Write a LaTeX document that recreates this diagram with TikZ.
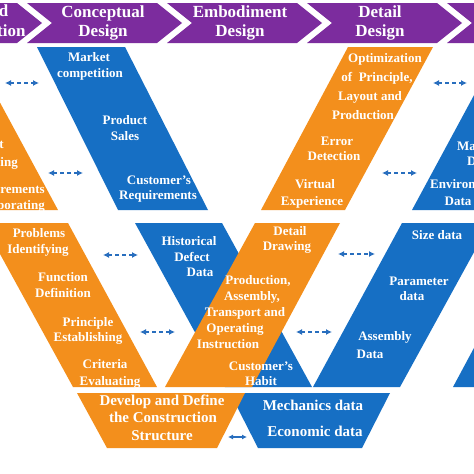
\documentclass[tikz,border=0pt]{standalone}
\usepackage{fontspec}
\setmainfont{Liberation Serif}
\usetikzlibrary{arrows.meta}
\definecolor{vblue}{RGB}{22,111,196}
\definecolor{vorange}{RGB}{243,143,28}
\definecolor{vpurple}{RGB}{124,44,158}
\definecolor{varrow}{RGB}{40,110,190}
\begin{document}
\begin{tikzpicture}[x=1pt,y=-1pt,
  lbl/.style={text=white,font=\bfseries\fontsize{13}{15}\selectfont,inner sep=0pt,text height=9pt,text depth=3pt},
  ban/.style={lbl,font=\bfseries\fontsize{17}{20}\selectfont,text height=11.5pt,text depth=4pt},
  big/.style={lbl,font=\bfseries\fontsize{15}{18}\selectfont,text height=10pt,text depth=3.5pt},
  darr/.style={draw=varrow,line width=1.6pt,dash pattern=on 4pt off 3pt,{Latex[length=6pt,width=6pt]}-{Latex[length=6pt,width=6pt]}},
  sarr/.style={draw=varrow,line width=1.2pt,{Latex[length=5pt,width=5pt]}-{Latex[length=5pt,width=5pt]}}]
\useasboundingbox (0,0) rectangle (474,474);
\clip (0,0) rectangle (474,474);
\fill[white] (0,0) rectangle (474,474);
% banner chevrons
\foreach \xo in {-113,27,167,307,447}{
  \fill[vpurple] (\xo,3) -- (\xo+130,3) -- (\xo+155,23) -- (\xo+130,43) -- (\xo,43) -- (\xo+25,23) -- cycle;
}
\node[ban] (b1a) at (-40,13) {Planning and};
\node[ban] (b1b) at (-40,33) {Task Clarification};
\node[ban] (b2a) at (103,14) {Conceptual};
\node[ban] (b2b) at (103,33) {Design};
\node[ban] (b3a) at (240,14) {Embodiment};
\node[ban] (b3b) at (240,33) {Design};
\node[ban] (b4a) at (380,14) {Detail};
\node[ban] (b4b) at (380,33) {Design};
% row 1
\fill[vorange] (-120,47) -- (-30,47) -- (58,210) -- (-32,210) -- cycle;
\fill[vblue] (37,47) -- (125,47) -- (208,210) -- (118,210) -- cycle;
\fill[vorange] (348,47) -- (433,47) -- (345,210) -- (261,210) -- cycle;
\fill[vblue] (500,47) -- (590,47) -- (500,210) -- (412,210) -- cycle;
% row 2
\fill[vorange] (-17,223) -- (68,223) -- (157,387) -- (73,387) -- cycle;
\fill[vblue] (135,223) -- (222,223) -- (312,387) -- (225,387) -- cycle;
\fill[vorange] (255,223) -- (340,223) -- (252,387) -- (165,387) -- cycle;
\fill[vblue] (402,223) -- (490,223) -- (400,387) -- (313,387) -- cycle;
\fill[vblue] (541,223) -- (630,223) -- (540,387) -- (453,387) -- cycle;
% row 3
\fill[vblue] (230,393) -- (390,393) -- (362,448) -- (258,448) -- cycle;
\fill[vorange] (77,393) -- (245,393) -- (217,448) -- (107,448) -- cycle;
% row 1 texts
\node[lbl,anchor=east] (l1) at (4,145) {Market};
\node[lbl,anchor=east] (l2) at (18,163) {Planning};
\node[lbl,anchor=east] (l3) at (45,190) {Requirements};
\node[lbl,anchor=east] (l4) at (45,206) {Incorporating};
\node[lbl] (m1) at (89,58) {Market};
\node[lbl] (m2) at (90,74) {competition};
\node[lbl] (m3) at (125,121) {Product};
\node[lbl] (m4) at (125,137) {Sales};
\node[lbl] (m5) at (159,181) {Customer's};
\node[lbl] (m6) at (158,196) {Requirements};
\node[lbl] (o1) at (385,59) {Optimization};
\node[lbl] (o2) at (377,78) {of~~Principle,};
\node[lbl] (o3) at (370,97) {Layout and};
\node[lbl] (o4) at (363,116) {Production};
\node[lbl] (o5) at (337,142) {Error};
\node[lbl] (o6) at (334,157) {Detection};
\node[lbl] (o7) at (315,185) {Virtual};
\node[lbl] (o8) at (312,202) {Experience};
\node[lbl,anchor=west] (r1) at (457,147) {Material};
\node[lbl,anchor=west] (r2) at (467,162) {Data};
\node[lbl,anchor=west] (r3) at (430,185) {Environment};
\node[lbl] (r4) at (458,202) {Data};
% row 2 texts
\node[lbl] (p1) at (39,234) {Problems};
\node[lbl] (p2) at (38,250) {Identifying};
\node[lbl] (p3) at (63,278) {Function};
\node[lbl] (p4) at (63,294) {Definition};
\node[lbl] (p5) at (88,323) {Principle};
\node[lbl] (p6) at (88,338) {Establishing};
\node[lbl] (p7) at (105,365) {Criteria};
\node[lbl] (p8) at (110,382) {Evaluating};
\node[lbl] (h1) at (189,242) {Historical};
\node[lbl] (h2) at (192,258) {Defect};
\node[lbl] (h3) at (200,273) {Data};
\node[lbl] (h4) at (261,367) {Customer's};
\node[lbl] (h5) at (261,382) {Habit};
\node[lbl] (d1) at (290,232) {Detail};
\node[lbl] (d2) at (287,247) {Drawing};
\node[lbl] (d3) at (258,281) {Production,};
\node[lbl] (d4) at (252,297) {Assembly,};
\node[lbl] (d5) at (245,313) {Transport and};
\node[lbl] (d6) at (235,329) {Operating};
\node[lbl] (d7) at (228,345) {Instruction};
\node[lbl] (s1) at (437,236) {Size data};
\node[lbl] (s2) at (419,282) {Parameter};
\node[lbl] (s3) at (412,297) {data};
\node[lbl] (s4) at (385,337) {Assembly};
\node[lbl] (s5) at (370,355) {Data};
% row 3 texts
\node[big] (c1) at (162,402) {Develop and Define};
\node[big] (c2) at (163,419) {the Construction};
\node[big] (c3) at (162,437) {Structure};
\node[big] (e1) at (313,407) {Mechanics data};
\node[big] (e2) at (315,433) {Economic data};
% arrow end points
\coordinate (a1l) at (5,83);   \coordinate (a1r) at (39,83);
\coordinate (a2l) at (48,173); \coordinate (a2r) at (83,173);
\coordinate (a3l) at (433,83); \coordinate (a3r) at (467,83);
\coordinate (a4l) at (382,173);\coordinate (a4r) at (417,173);
\coordinate (a5l) at (103,255);\coordinate (a5r) at (138,255);
\coordinate (a6l) at (140,332);\coordinate (a6r) at (175,332);
\coordinate (a7l) at (338,254);\coordinate (a7r) at (375,254);
\coordinate (a8l) at (296,332);\coordinate (a8r) at (332,332);
\coordinate (a9l) at (228,437);\coordinate (a9r) at (247,437);
\draw[darr] (a1l) -- (a1r);
\draw[darr] (a2l) -- (a2r);
\draw[darr] (a3l) -- (a3r);
\draw[darr] (a4l) -- (a4r);
\draw[darr] (a5l) -- (a5r);
\draw[darr] (a6l) -- (a6r);
\draw[darr] (a7l) -- (a7r);
\draw[darr] (a8l) -- (a8r);
\draw[sarr] (a9l) -- (a9r);
\end{tikzpicture}
\end{document}
